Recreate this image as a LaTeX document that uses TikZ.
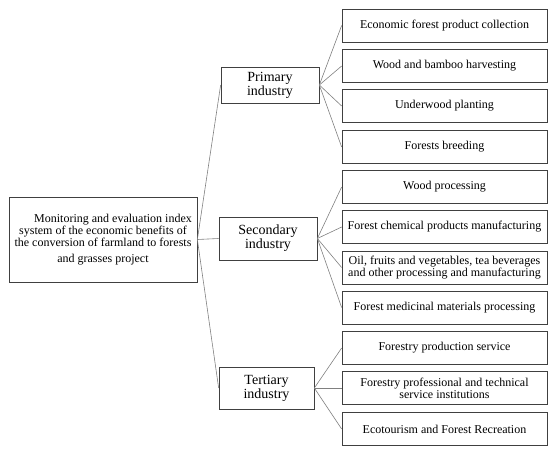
\documentclass[tikz,border=0pt]{standalone}
\usepackage{fontspec}
\setmainfont{Liberation Serif}
\begin{document}
\begin{tikzpicture}[x=1pt,y=-1pt,
  box/.style={draw=black!75,line width=0.7pt,inner sep=1pt,align=center},
  rootbox/.style={box,minimum width=188pt,minimum height=85pt,font=\fontsize{12}{11.8}\selectfont},
  indbox/.style={box,minimum width=98pt,font=\fontsize{14}{14}\selectfont},
  leafbox/.style={box,minimum width=205pt,minimum height=33pt,font=\fontsize{12}{12}\selectfont},
  link/.style={draw=black!50,line width=0.6pt}]
\useasboundingbox (0,0) rectangle (550,453);
\node[rootbox] (root) at (103,239.5) {\hspace*{20pt}Monitoring and evaluation index\\system of the economic benefits of\\the conversion of farmland to forests\\[4pt]and grasses project};
\node[indbox,minimum height=36pt] (p) at (270,85) {Primary\\industry};
\node[indbox,minimum height=43pt] (s) at (268,238.5) {Secondary\\industry};
\node[indbox,minimum width=95pt,minimum height=42pt] (t) at (266.5,388) {Tertiary\\industry};
\node[leafbox] (c1) at (444.5,25.5) {Economic forest product collection};
\node[leafbox] (c2) at (444.5,66) {Wood and bamboo harvesting};
\node[leafbox] (c3) at (444.5,106) {Underwood planting};
\node[leafbox] (c4) at (444.5,147) {Forests breeding};
\node[leafbox] (c5) at (444.5,187) {Wood processing};
\node[leafbox] (c6) at (444.5,227) {Forest chemical products manufacturing};
\node[leafbox] (c7) at (444.5,267.5) {Oil, fruits and vegetables, tea beverages\\and other processing and manufacturing};
\node[leafbox] (c8) at (444.5,307.5) {Forest medicinal materials processing};
\node[leafbox] (c9) at (444.5,348) {Forestry production service};
\node[leafbox] (c10) at (444.5,388) {Forestry professional and technical\\service institutions};
\node[leafbox] (c11) at (444.5,429) {Ecotourism and Forest Recreation};
\foreach \n in {p,s,t} \draw[link] (root.east) -- (\n.west);
\foreach \n in {c1,c2,c3,c4} \draw[link] (p.east) -- (\n.west);
\foreach \n in {c5,c6,c7,c8} \draw[link] (s.east) -- (\n.west);
\foreach \n in {c9,c10,c11} \draw[link] (t.east) -- (\n.west);
\end{tikzpicture}
\end{document}
